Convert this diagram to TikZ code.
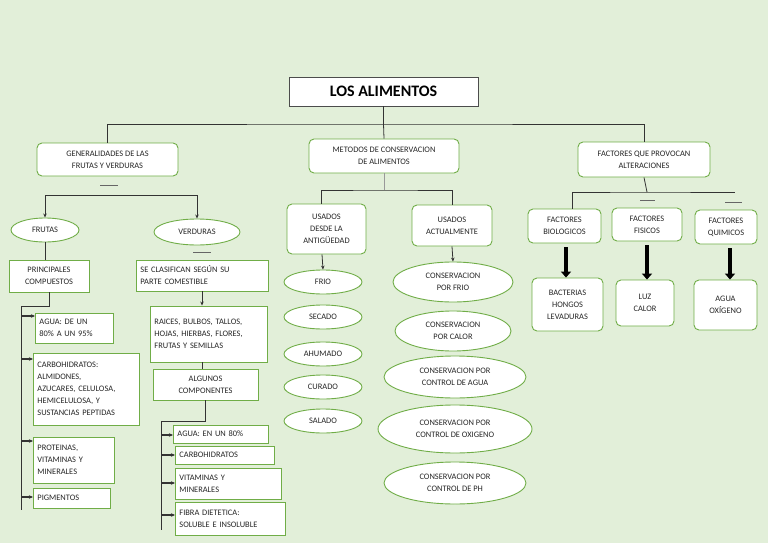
\documentclass[tikz,border=0pt]{standalone}
\usepackage{fontspec}
\setmainfont{Carlito}
\usetikzlibrary{shapes.geometric,arrows.meta,positioning}
\definecolor{bg}{HTML}{E2EFD9}
\definecolor{gr}{HTML}{70AD47}
\begin{document}
\begin{tikzpicture}[x=1pt,y=-1pt,
  every node/.style={font=\fontsize{8.4}{12}\selectfont, align=center, inner sep=1pt, text=black!85},
  box/.style={draw=gr, line width=0.9pt, fill=white},
  rbox/.style={box, rounded corners=5pt},
  ell/.style={box, ellipse, inner sep=0pt},
  ln/.style={draw=black!80, line width=0.8pt},
  arr/.style={ln, -{Stealth[length=4pt,width=3.5pt]}},
  big/.style={line width=3.5pt, -{Triangle[length=6pt,width=10pt]}},
  lbox/.style={box, align=left, anchor=west, inner xsep=4pt}]
\fill[bg] (0,0) rectangle (768,543);
\useasboundingbox (0,0) rectangle (768,543);

% title and first level
\node[draw=black!70, line width=0.9pt, fill=white, minimum width=189pt, minimum height=29pt,
  font=\fontsize{16}{18}\selectfont\bfseries, text=black] (title) at (383.5,91.5) {LOS ALIMENTOS};
\node[rbox, minimum width=141pt, minimum height=33pt] (gen) at (107.5,159.5) {GENERALIDADES DE LAS\\FRUTAS Y VERDURAS};
\node[rbox, minimum width=150pt, minimum height=34pt] (met) at (384,156) {METODOS DE CONSERVACION\\DE ALIMENTOS};
\node[rbox, minimum width=132pt, minimum height=35pt] (fac) at (644,159.5) {FACTORES QUE PROVOCAN\\ALTERACIONES};
\draw[ln] (title.south) -- (383.5,124) coordinate (t1);
\draw[ln] (gen.north) |- (t1) -| (fac.north);
\draw[ln] (t1) -- (met.north);

% frutas y verduras
\draw[black!60, line width=0.8pt] (100,185) -- (118,185);
\node[ell, minimum width=68pt, minimum height=24pt] (fru) at (45,230) {FRUTAS};
\node[ell, minimum width=86pt, minimum height=26pt] (ver) at (197,232) {VERDURAS};
\coordinate (t2) at (107.5,195);
\draw[arr] (t2) -| (fru.north);
\draw[arr] (t2) -| (ver.north);
\draw[black!60, line width=0.8pt] (193,252) -- (211,252);

\node[box, minimum width=80pt, minimum height=32pt] (pc) at (49,276) {PRINCIPALES\\COMPUESTOS};
\draw[ln] (fru.south) -- (pc.north -| fru.south);
\node[lbox, minimum width=132pt, minimum height=31pt, text width=124pt] (sc) at (136,275.5) {SE CLASIFICAN SEGÚN SU\\PARTE COMESTIBLE};
\node[lbox, minimum width=117pt, minimum height=56pt, text width=109pt] (ra) at (150,334) {RAICES, BULBOS, TALLOS,\\HOJAS, HIERBAS, FLORES,\\FRUTAS Y SEMILLAS};
\node[box, minimum width=105pt, minimum height=31pt] (al) at (205.5,384.5) {ALGUNOS\\COMPONENTES};
\draw[arr] (sc.south -| 202,0) -- (ra.north -| 202,0);
\draw[ln] (ra.south -| 202,0) -- (al.north -| 202,0);

% componentes de frutas
\node[lbox, minimum width=78pt, minimum height=30pt, text width=70pt] (f1) at (35,328) {AGUA: DE UN\\80\% A UN 95\%};
\node[lbox, minimum width=106pt, minimum height=72pt, text width=98pt] (f2) at (33,389) {CARBOHIDRATOS:\\ALMIDONES,\\AZUCARES, CELULOSA,\\HEMICELULOSA, Y\\SUSTANCIAS PEPTIDAS};
\node[lbox, minimum width=81pt, minimum height=46pt, text width=73pt] (f3) at (33,460) {PROTEINAS,\\VITAMINAS Y\\MINERALES};
\node[lbox, minimum width=77pt, minimum height=20pt, text width=69pt] (f4) at (33,498) {PIGMENTOS};
\draw[ln] (pc.south) -- (49,306) -| (21,510);
\foreach \n/\y in {f1/316,f2/359,f3/441,f4/497}
  \draw[arr, line width=1.2pt] (21,\y) -- (\n.west |- 0,\y);

% componentes de verduras
\node[lbox, minimum width=95pt, minimum height=18pt, text width=87pt] (v1) at (173,434) {AGUA: EN UN 80\%};
\node[lbox, minimum width=99pt, minimum height=18pt, text width=91pt] (v2) at (175,455) {CARBOHIDRATOS};
\node[lbox, minimum width=106pt, minimum height=31pt, text width=98pt] (v3) at (175,483.5) {VITAMINAS Y\\MINERALES};
\node[lbox, minimum width=110pt, minimum height=33pt, text width=102pt] (v4) at (175,518.5) {FIBRA DIETETICA:\\SOLUBLE E INSOLUBLE};
\draw[ln] (al.south) -- (205.5,421) -| (161,530);
\foreach \n/\y in {v1/435,v2/455,v3/483,v4/515}
  \draw[arr, line width=1.2pt] (161,\y) -- (\n.west |- 0,\y);

% metodos
\node[rbox, minimum width=79pt, minimum height=50pt] (ua) at (326.5,229) {USADOS\\DESDE LA\\ANTIGÜEDAD};
\node[rbox, minimum width=80pt, minimum height=41pt] (uc) at (452,225.5) {USADOS\\ACTUALMENTE};
\draw[black!40, line width=0.8pt] (met.south) -- (384,190) coordinate (t3);
\draw[ln] (ua.north -| 321,0) |- (t3) -| (uc.north);
\foreach \n/\t/\y in {m1/FRIO/282, m2/SECADO/317, m3/AHUMADO/354, m4/CURADO/387, m5/SALADO/421}
  \node[ell, minimum width=78pt, minimum height=24pt] (\n) at (323,\y) {\t};
\draw[arr] (ua.south -| 322,0) -- (m1.north);
\node[ell, minimum width=120pt, minimum height=40pt] (c1) at (453,282) {CONSERVACION\\POR FRIO};
\node[ell, minimum width=116pt, minimum height=40pt] (c2) at (453,331) {CONSERVACION\\POR CALOR};
\node[ell, minimum width=142pt, minimum height=42pt] (c3) at (455,377) {CONSERVACION POR\\CONTROL DE AGUA};
\node[ell, minimum width=154pt, minimum height=48pt] (c4) at (455,429) {CONSERVACION POR\\CONTROL DE OXIGENO};
\node[ell, minimum width=142pt, minimum height=42pt] (c5) at (455,483) {CONSERVACION POR\\CONTROL DE PH};
\draw[arr] (uc.south) -- (c1.north);

% factores
\node[rbox, minimum width=73pt, minimum height=34pt] (fb1) at (564.5,226) {FACTORES\\BIOLOGICOS};
\node[rbox, minimum width=70pt, minimum height=33pt] (fb2) at (647,224.5) {FACTORES\\FISICOS};
\node[rbox, minimum width=62pt, minimum height=34pt] (fb3) at (726,227) {FACTORES\\QUIMICOS};
\draw[ln] (fac.south) -- (647,192) coordinate (t4);
\draw[ln] (fb1.north -| 572,0) |- (t4) -- (735,192);
\draw[black!60, line width=0.8pt] (640,200) -- (655,200);
\draw[black!60, line width=0.8pt] (725,202) -- (742,202);
\node[rbox, minimum width=71pt, minimum height=53pt] (r1) at (567.5,304.5) {BACTERIAS\\HONGOS\\LEVADURAS};
\node[rbox, minimum width=58pt, minimum height=46pt] (r2) at (645,303) {LUZ\\CALOR};
\node[rbox, minimum width=63pt, minimum height=50pt] (r3) at (725.5,305) {AGUA\\OXÍGENO};
\draw[big] (566,247) -- (r1.north -| 566,0);
\draw[big] (647,245) -- (r2.north -| 647,0);
\draw[big] (730,248) -- (r3.north -| 730,0);
\end{tikzpicture}
\end{document}
